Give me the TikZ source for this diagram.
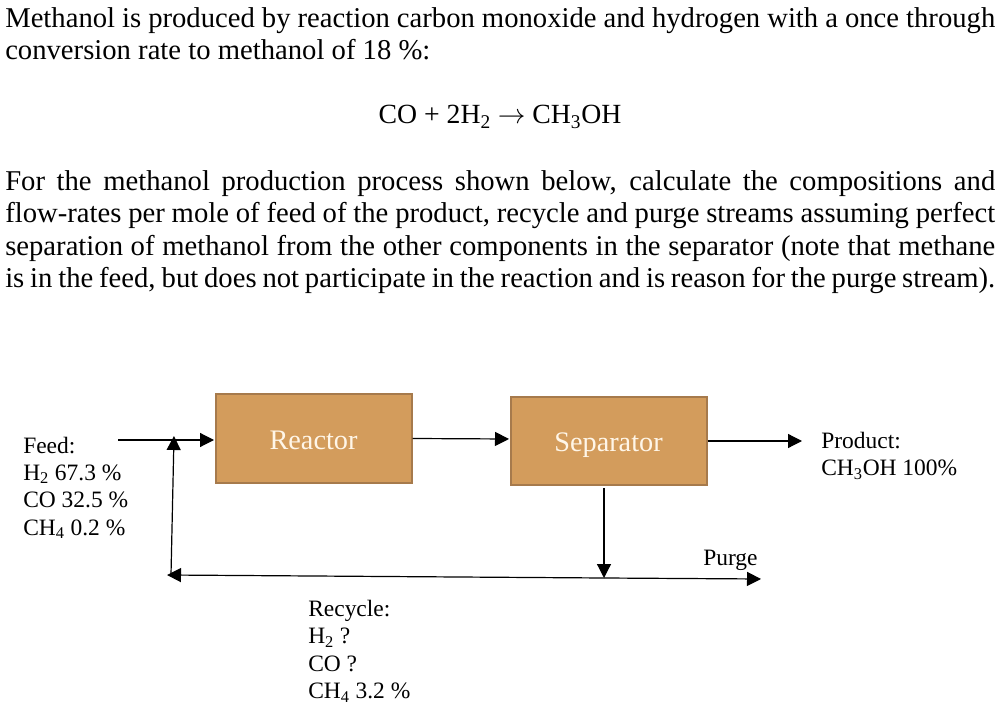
\documentclass[tikz,border=0pt]{standalone}
\usepackage{fontspec}
\setmainfont{Liberation Serif}
\usetikzlibrary{arrows.meta}
\newcommand{\fitline}[1]{\makebox[742.5pt][s]{#1}}
\tikzset{
  x=0.75pt,y=-0.75pt,
  para/.style={anchor=north west,inner sep=0pt,align=left,font=\fontsize{21.5}{24.35}\selectfont},
  unitbox/.style={draw=boxedge,fill=boxfill,line width=1.5pt,minimum width=147pt,minimum height=66pt,inner sep=0pt,text=boxtext,font=\fontsize{21.2}{24}\selectfont},
  lab/.style={anchor=north west,inner sep=0pt,align=left,font=\fontsize{17.6}{20.5}\selectfont},
  flow/.style={line width=0.9pt,-{Triangle[length=10.5pt,width=10.5pt]}}
}
\definecolor{boxfill}{HTML}{D39C5C}
\definecolor{boxedge}{HTML}{A67A4C}
\definecolor{boxtext}{HTML}{FFF6E8}
\begin{document}
\begin{tikzpicture}
\useasboundingbox (0,0) rectangle (999,705);
\node[para] (intro) at (5,7) {\fitline{Methanol is produced by reaction carbon monoxide and hydrogen with a once through}\\conversion rate to methanol of 18 \%:};
\node[anchor=base,inner sep=0pt,font=\fontsize{20.8}{24}\selectfont] (eq) at (500,124) {CO + 2H\textsubscript{2} $\rightarrow$ CH\textsubscript{3}OH};
\node[para] (task) at (5,170) {\fitline{For the methanol production process shown below, calculate the compositions and}\\
\fitline{flow-rates per mole of feed of the product, recycle and purge streams assuming perfect}\\
\fitline{separation of methanol from the other components in the separator (note that methane}\\
\fitline{is in the feed, but does not participate in the reaction and is reason for the purge stream).}};
\node[unitbox] (reactor) at (313.5,438.5) {\raisebox{-1.5pt}[\height][\depth]{Reactor}};
\node[unitbox] (separator) at (608.5,441) {\raisebox{-3pt}[\height][\depth]{Separator}};
\node[lab] (feedlab) at (23,436.5) {Feed:\\H\textsubscript{2} 67.3 \%\\CO 32.5 \%\\CH\textsubscript{4} 0.2 \%};
\node[lab] (productlab) at (821,432) {Product:\\CH\textsubscript{3}OH 100\%};
\node[lab] (purgelab) at (703,549.5) {Purge};
\node[lab] (recyclelab) at (308,600) {Recycle:\\H\textsubscript{2} ?\\CO ?\\CH\textsubscript{4} 3.2 \%};
\coordinate (feedstart) at (118,440);
\coordinate (reactorin) at (214,440);
\coordinate (junction) at (174,436);
\coordinate (recycleend) at (167,575);
\coordinate (corner) at (171,575);
\coordinate (purgeend) at (761,579);
\coordinate (tee) at (604,578);
\coordinate (sepbottom) at (604,488);
\coordinate (sepin) at (509,439);
\coordinate (productend) at (802,441);
\draw[flow] (feedstart) -- (reactorin);
\draw[flow] (corner) -- (junction);
\draw[flow] (tee) -- (recycleend);
\draw[flow] (tee) -- (purgeend);
\draw[flow] (sepbottom) -- (tee);
\draw[flow] (reactor.east) -- (sepin);
\draw[flow] (separator.east) -- (productend);
\end{tikzpicture}
\end{document}
